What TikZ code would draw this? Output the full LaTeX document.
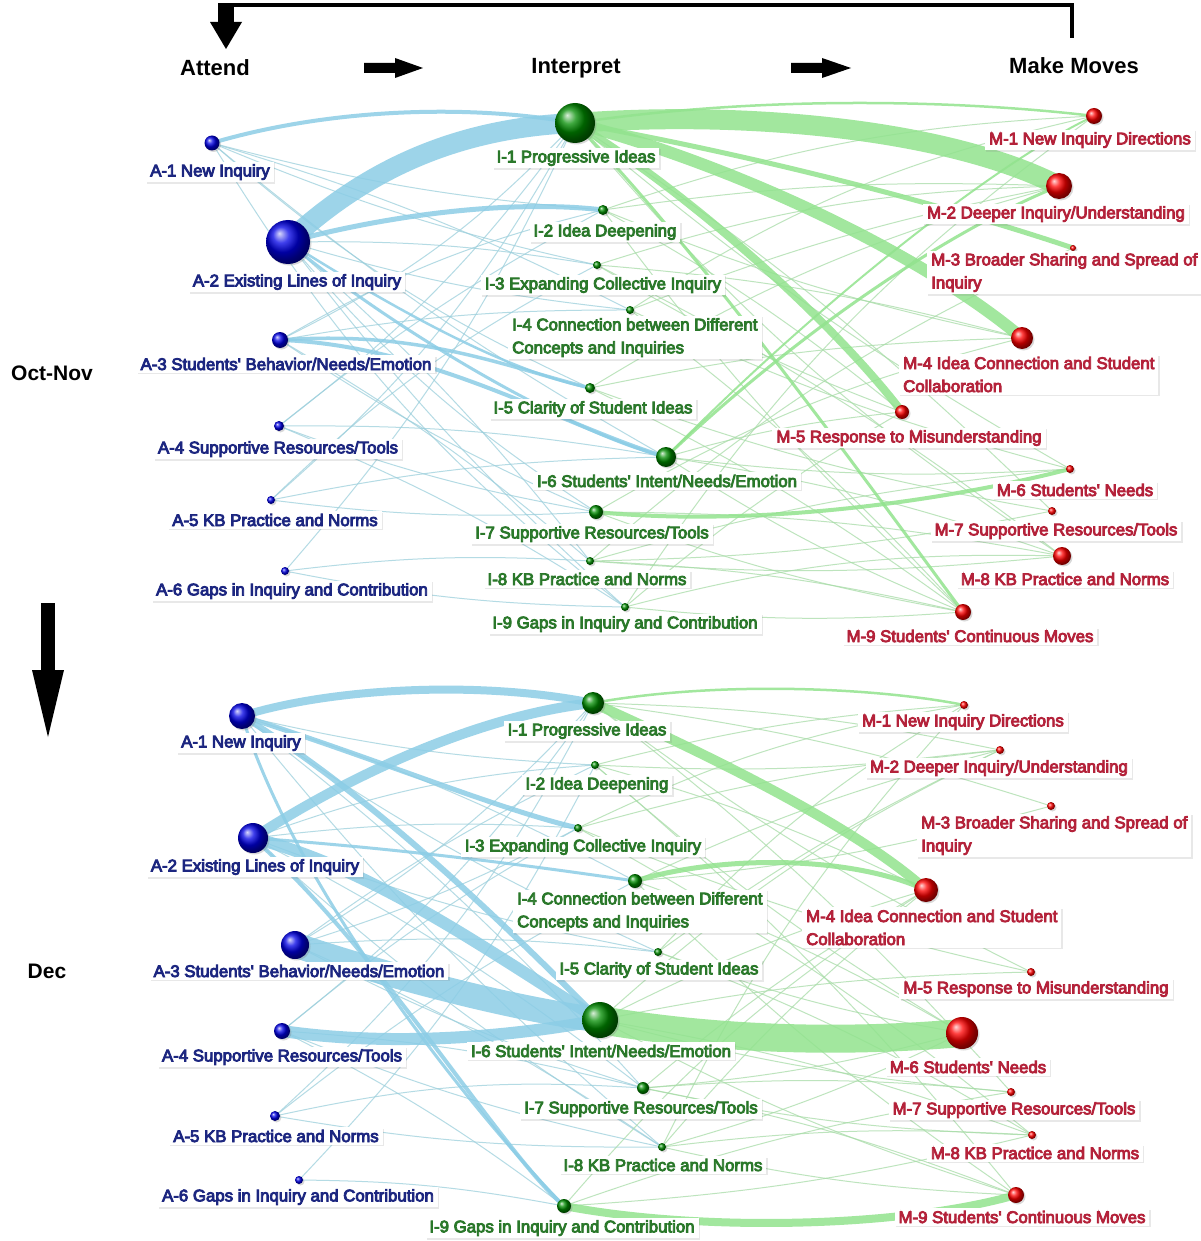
\documentclass[tikz,border=0pt]{standalone}
\usepackage{fontspec}
\setmainfont{Liberation Sans}
\newfontfamily\labfont[FakeBold=5]{Liberation Sans}
\usetikzlibrary{shadows}
\pgfdeclarelayer{bgfill}
\pgfdeclarelayer{edges}
\pgfsetlayers{bgfill,edges,main}
\definecolor{blueE}{HTML}{8CCDE6}
\definecolor{blueT}{HTML}{9CCFDC}
\definecolor{greenE}{HTML}{92E38E}
\definecolor{greenT}{HTML}{A8DCA8}
\definecolor{labAc}{HTML}{1C2680}
\definecolor{labIc}{HTML}{2A782A}
\definecolor{labMc}{HTML}{B4223A}
\begin{document}
\begin{tikzpicture}[x=1pt,y=1pt,
  ball/.style={circle, inner sep=0pt, draw=none, drop shadow={shadow xshift=1.5pt, shadow yshift=-1.5pt, opacity=0.3}},
  ballA/.style={ball, ball color=blue!90!black},
  ballI/.style={ball, ball color=green!55!black},
  ballM/.style={ball, ball color=red},
  lab/.style={fill=white, inner xsep=4pt, inner ysep=2.5pt, font=\labfont\fontsize{16.8}{23}\selectfont,
    drop shadow={shadow xshift=1.2pt, shadow yshift=-1.5pt, opacity=0.18}},
  labA/.style={lab, text=labAc},
  labI/.style={lab, text=labIc},
  labM/.style={lab, text=labMc},
  two/.style={anchor=west, align=left},
  bband/.style={draw=blueE, line width=#1, opacity=0.85},
  gband/.style={draw=greenE, line width=#1, opacity=0.85},
  bthin/.style={draw=blueT, line width=1pt, opacity=0.75},
  gthin/.style={draw=greenT, line width=1pt, opacity=0.75},
  hdr/.style={font=\bfseries\fontsize{22}{26}\selectfont},
  side/.style={font=\bfseries\fontsize{21}{25}\selectfont}
]
\useasboundingbox (0,0) rectangle (1200,-1241);
\begin{pgfonlayer}{bgfill}
\fill[white] (0,0) rectangle (1200,-1241);
\end{pgfonlayer}

% ---------- headers and arrows ----------
\node[hdr] (hA) at (215,-68) {Attend};
\node[hdr] (hI) at (576,-68) {Interpret};
\node[hdr] (hM) at (1074,-66) {Make Moves};
\node[side] (sOct) at (52,-373) {Oct-Nov};
\node[side] (sDec) at (47,-971) {Dec};

\draw[line width=4.5pt] (1072,-38) -- (1072,-5) -- (220,-5);
\fill (218,-3) rectangle (234,-24);
\fill (210,-22) -- (242,-22) -- (226,-49) -- cycle;

\fill (364,-63) -- (395,-63) -- (395,-58) -- (423,-68) -- (395,-78) -- (395,-73) -- (364,-73) -- cycle;
\fill (791,-63) -- (822,-63) -- (822,-58) -- (851,-68) -- (822,-78) -- (822,-73) -- (791,-73) -- cycle;

\fill (41,-603) rectangle (55,-671);
\fill (32,-670) -- (64,-670) -- (48,-737) -- cycle;

% ---------- top panel balls ----------
\node[ballA, minimum size=15pt] (tA1) at (212,-143) {};
\node[ballA, minimum size=44pt] (tA2) at (288,-242) {};
\node[ballA, minimum size=16pt] (tA3) at (280,-340) {};
\node[ballA, minimum size=10pt] (tA4) at (279,-426) {};
\node[ballA, minimum size=8pt] (tA5) at (271,-500) {};
\node[ballA, minimum size=8pt] (tA6) at (285,-571) {};

\node[ballI, minimum size=40pt] (tI1) at (575,-123) {};
\node[ballI, minimum size=10pt] (tI2) at (603,-210) {};
\node[ballI, minimum size=8pt] (tI3) at (597,-265) {};
\node[ballI, minimum size=8pt] (tI4) at (630,-310) {};
\node[ballI, minimum size=10pt] (tI5) at (590,-388) {};
\node[ballI, minimum size=20pt] (tI6) at (666,-457) {};
\node[ballI, minimum size=14pt] (tI7) at (596,-512) {};
\node[ballI, minimum size=8pt] (tI8) at (590,-561) {};
\node[ballI, minimum size=8pt] (tI9) at (625,-607) {};

\node[ballM, minimum size=16pt] (tM1) at (1094,-116) {};
\node[ballM, minimum size=26pt] (tM2) at (1059,-186) {};
\node[ballM, minimum size=6pt] (tM3) at (1073,-248) {};
\node[ballM, minimum size=22pt] (tM4) at (1022,-338) {};
\node[ballM, minimum size=14pt] (tM5) at (902,-412) {};
\node[ballM, minimum size=8pt] (tM6) at (1070,-469) {};
\node[ballM, minimum size=8pt] (tM7) at (1052,-511) {};
\node[ballM, minimum size=18pt] (tM8) at (1062,-556) {};
\node[ballM, minimum size=16pt] (tM9) at (963,-612) {};

% ---------- bottom panel balls ----------
\node[ballA, minimum size=26pt] (dA1) at (242,-716) {};
\node[ballA, minimum size=30pt] (dA2) at (253,-838) {};
\node[ballA, minimum size=28pt] (dA3) at (295,-945) {};
\node[ballA, minimum size=16pt] (dA4) at (282,-1031) {};
\node[ballA, minimum size=10pt] (dA5) at (275,-1116) {};
\node[ballA, minimum size=8pt] (dA6) at (299,-1180) {};

\node[ballI, minimum size=22pt] (dI1) at (593,-703) {};
\node[ballI, minimum size=8pt] (dI2) at (595,-765) {};
\node[ballI, minimum size=8pt] (dI3) at (578,-828) {};
\node[ballI, minimum size=14pt] (dI4) at (635,-881) {};
\node[ballI, minimum size=8pt] (dI5) at (658,-952) {};
\node[ballI, minimum size=36pt] (dI6) at (600,-1020) {};
\node[ballI, minimum size=12pt] (dI7) at (643,-1088) {};
\node[ballI, minimum size=8pt] (dI8) at (662,-1147) {};
\node[ballI, minimum size=14pt] (dI9) at (564,-1206) {};

\node[ballM, minimum size=8pt] (dM1) at (964,-705) {};
\node[ballM, minimum size=8pt] (dM2) at (1000,-750) {};
\node[ballM, minimum size=8pt] (dM3) at (1051,-806) {};
\node[ballM, minimum size=24pt] (dM4) at (926,-890) {};
\node[ballM, minimum size=8pt] (dM5) at (1031,-972) {};
\node[ballM, minimum size=32pt] (dM6) at (962,-1033) {};
\node[ballM, minimum size=8pt] (dM7) at (1011,-1092) {};
\node[ballM, minimum size=8pt] (dM8) at (1032,-1135) {};
\node[ballM, minimum size=16pt] (dM9) at (1016,-1195) {};

% ---------- edges ----------
\begin{pgfonlayer}{edges}
% top thin blue
\foreach \a/\b/\c in {tA1/tI2/-5, tA1/tI3/-5, tA1/tI5/-8, tA1/tI6/-5, tA1/tI4/5, tA2/tI3/5, tA2/tI4/-5, tA2/tI7/-8, tA2/tI8/5, tA2/tI9/-5, tA3/tI1/-10, tA3/tI2/8, tA3/tI4/5, tA3/tI7/-5, tA3/tI8/5, tA4/tI1/-8, tA4/tI2/5, tA4/tI6/5, tA4/tI7/-5, tA4/tI9/5, tA5/tI1/-10, tA5/tI3/8, tA5/tI6/5, tA5/tI7/-5, tA6/tI1/-8, tA6/tI8/5, tA6/tI9/-5, tA1/tI9/-10}
  \draw[bthin] (\a.center) to[bend left=\c] (\b.center);
% top thin green
\foreach \a/\b/\c in {tI1/tM6/-5, tI1/tM7/5, tI1/tM8/-8, tI2/tM1/8, tI2/tM2/5, tI2/tM4/-5, tI2/tM5/5, tI2/tM9/-5, tI3/tM2/8, tI3/tM4/5, tI3/tM5/-5, tI3/tM8/5, tI4/tM1/10, tI4/tM2/5, tI4/tM6/-5, tI4/tM9/5, tI5/tM2/8, tI5/tM4/5, tI5/tM7/-5, tI6/tM5/5, tI6/tM6/-5, tI6/tM8/5, tI6/tM9/-5, tI7/tM8/5, tI7/tM9/-5, tI7/tM4/8, tI8/tM3/8, tI8/tM6/5, tI8/tM7/-5, tI8/tM9/5, tI8/tM8/-5, tI9/tM5/5, tI9/tM8/8, tI9/tM9/-5, tI5/tM9/5, tI9/tM1/10}
  \draw[gthin] (\a.center) to[bend left=\c] (\b.center);
% bottom thin blue
\foreach \a/\b/\c in {dA1/dI2/-5, dA1/dI4/5, dA1/dI5/-5, dA1/dI7/5, dA1/dI8/-5, dA2/dI2/8, dA2/dI3/5, dA2/dI5/-5, dA2/dI7/5, dA2/dI8/-5, dA3/dI1/-8, dA3/dI2/5, dA3/dI3/-5, dA3/dI5/5, dA3/dI7/-5, dA3/dI8/5, dA4/dI1/-8, dA4/dI3/5, dA4/dI7/5, dA4/dI8/-5, dA4/dI9/5, dA5/dI1/-10, dA5/dI4/5, dA5/dI7/8, dA5/dI8/-5, dA6/dI2/-8, dA6/dI9/5}
  \draw[bthin] (\a.center) to[bend left=\c] (\b.center);
% bottom thin green
\foreach \a/\b/\c in {dI1/dM2/5, dI1/dM3/5, dI1/dM5/-5, dI1/dM7/5, dI2/dM1/5, dI2/dM2/-5, dI2/dM4/5, dI2/dM6/-5, dI2/dM9/5, dI3/dM1/8, dI3/dM2/5, dI3/dM5/-5, dI3/dM8/5, dI4/dM2/5, dI4/dM3/-5, dI4/dM6/5, dI4/dM9/-5, dI5/dM1/8, dI5/dM2/5, dI5/dM6/-5, dI5/dM8/5, dI6/dM2/8, dI6/dM4/5, dI6/dM5/5, dI6/dM7/-5, dI6/dM8/5, dI6/dM9/-5, dI7/dM4/5, dI7/dM6/-5, dI7/dM7/5, dI7/dM8/-5, dI7/dM9/5, dI8/dM1/8, dI8/dM4/5, dI8/dM6/-5, dI8/dM8/5, dI8/dM9/-5, dI9/dM4/8, dI9/dM7/5, dI9/dM8/-5}
  \draw[gthin] (\a.center) to[bend left=\c] (\b.center);

% top thick blue
\draw[bband=20] (tA2.center) .. controls (360,-175) and (450,-128) .. (tI1.center);
\draw[bband=4] (tA1.center) .. controls (330,-108) and (470,-104) .. (tI1.center);
\draw[bband=5] (tA2.center) .. controls (400,-212) and (520,-200) .. (tI2.center);
\draw[bband=3.5] (tA3.center) .. controls (420,-330) and (500,-365) .. (tI5.center);
\draw[bband=4] (tA3.center) .. controls (430,-345) and (560,-425) .. (tI6.center);
\draw[bband=3] (tA2.center) .. controls (380,-320) and (560,-430) .. (tI6.center);
\draw[bband=2.5] (tA2.center) .. controls (380,-300) and (500,-370) .. (tI5.center);
% top thick green
\draw[gband=20] (tI1.center) .. controls (750,-110) and (950,-130) .. (tM2.center);
\draw[gband=2.5] (tI1.center) .. controls (760,-95) and (960,-100) .. (tM1.center);
\draw[gband=12] (tI1.center) .. controls (750,-170) and (930,-260) .. (tM4.center);
\draw[gband=8] (tI1.center) .. controls (700,-200) and (840,-330) .. (tM5.center);
\draw[gband=5] (tI1.center) .. controls (780,-160) and (960,-210) .. (tM3.center);
\draw[gband=3] (tI1.center) .. controls (700,-250) and (880,-500) .. (tM9.center);
\draw[gband=3] (tI6.center) .. controls (800,-330) and (950,-230) .. (tM2.center);
\draw[gband=2] (tI6.center) .. controls (820,-300) and (1000,-160) .. (tM1.center);
\draw[gband=4] (tI7.center) .. controls (760,-528) and (950,-500) .. (tM6.center);

% bottom thick blue
\draw[bband=8] (dA1.center) .. controls (330,-688) and (480,-680) .. (dI1.center);
\draw[bband=10] (dA2.center) .. controls (350,-775) and (480,-715) .. (dI1.center);
\draw[bband=5] (dA1.center) .. controls (380,-760) and (500,-810) .. (dI3.center);
\draw[bband=6] (dA1.center) .. controls (380,-800) and (520,-940) .. (dI6.center);
\draw[bband=12] (dA2.center) .. controls (380,-870) and (500,-960) .. (dI6.center);
\draw[bband=25] (dA3.center) .. controls (400,-980) and (520,-1010) .. (dI6.center);
\draw[bband=12] (dA4.center) .. controls (400,-1048) and (520,-1035) .. (dI6.center);
\draw[bband=4] (dA2.center) .. controls (380,-950) and (500,-1150) .. (dI9.center);
\draw[bband=3] (dA1.center) .. controls (300,-900) and (480,-1120) .. (dI9.center);
\draw[bband=3] (dA2.center) .. controls (420,-850) and (560,-870) .. (dI4.center);
% bottom thick green
\draw[gband=28] (dI6.center) .. controls (750,-1045) and (880,-1040) .. (dM6.center);
\draw[gband=10] (dI1.center) .. controls (720,-760) and (860,-830) .. (dM4.center);
\draw[gband=5] (dI4.center) .. controls (720,-855) and (850,-855) .. (dM4.center);
\draw[gband=8] (dI9.center) .. controls (700,-1232) and (900,-1228) .. (dM9.center);
\draw[gband=2.5] (dI1.center) .. controls (720,-680) and (880,-688) .. (dM1.center);
\end{pgfonlayer}

% ---------- top panel labels ----------
\node[labA] (tA1l) at (210,-172) {A-1 New Inquiry};
\node[labA] (tA2l) at (297,-282) {A-2 Existing Lines of Inquiry};
\node[labA] (tA3l) at (286,-364) {A-3 Students' Behavior/Needs/Emotion};
\node[labA] (tA4l) at (278,-449) {A-4 Supportive Resources/Tools};
\node[labA] (tA5l) at (275,-520) {A-5 KB Practice and Norms};
\node[labA] (tA6l) at (292,-591) {A-6 Gaps in Inquiry and Contribution};

\node[labI] (tI1l) at (576,-158) {I-1 Progressive Ideas};
\node[labI] (tI2l) at (605,-232) {I-2 Idea Deepening};
\node[labI] (tI3l) at (603,-285) {I-3 Expanding Collective Inquiry};
\node[labI, two] (tI4l) at (508,-337.5) {I-4 Connection between Different\\Concepts and Inquiries};
\node[labI] (tI5l) at (593,-409) {I-5 Clarity of Student Ideas};
\node[labI] (tI6l) at (667,-481) {I-6 Students' Intent/Needs/Emotion};
\node[labI] (tI7l) at (592,-534) {I-7 Supportive Resources/Tools};
\node[labI] (tI8l) at (587,-579) {I-8 KB Practice and Norms};
\node[labI] (tI9l) at (625,-624) {I-9 Gaps in Inquiry and Contribution};

\node[labM] (tM1l) at (1090,-140) {M-1 New Inquiry Directions};
\node[labM] (tM2l) at (1056,-214) {M-2 Deeper Inquiry/Understanding};
\node[labM, two] (tM3l) at (927,-272.5) {M-3 Broader Sharing and Spread of\\Inquiry};
\node[labM, two] (tM4l) at (899,-374.5) {M-4 Idea Connection and Student\\Collaboration};
\node[labM] (tM5l) at (909,-438) {M-5 Response to Misunderstanding};
\node[labM] (tM6l) at (1075,-490) {M-6 Students' Needs};
\node[labM] (tM7l) at (1056,-531) {M-7 Supportive Resources/Tools};
\node[labM] (tM8l) at (1065,-579) {M-8 KB Practice and Norms};
\node[labM] (tM9l) at (970,-636) {M-9 Students' Continuous Moves};

% ---------- bottom panel labels ----------
\node[labA] (dA1l) at (241,-743) {A-1 New Inquiry};
\node[labA] (dA2l) at (255,-867) {A-2 Existing Lines of Inquiry};
\node[labA] (dA3l) at (299,-971) {A-3 Students' Behavior/Needs/Emotion};
\node[labA] (dA4l) at (282,-1057) {A-4 Supportive Resources/Tools};
\node[labA] (dA5l) at (276,-1136) {A-5 KB Practice and Norms};
\node[labA] (dA6l) at (298,-1197) {A-6 Gaps in Inquiry and Contribution};

\node[labI] (dI1l) at (587,-731) {I-1 Progressive Ideas};
\node[labI] (dI2l) at (597,-785) {I-2 Idea Deepening};
\node[labI] (dI3l) at (583,-847) {I-3 Expanding Collective Inquiry};
\node[labI, two] (dI4l) at (513,-911.5) {I-4 Connection between Different\\Concepts and Inquiries};
\node[labI] (dI5l) at (659,-970) {I-5 Clarity of Student Ideas};
\node[labI] (dI6l) at (601,-1051) {I-6 Students' Intent/Needs/Emotion};
\node[labI] (dI7l) at (641,-1109) {I-7 Supportive Resources/Tools};
\node[labI] (dI8l) at (663,-1165) {I-8 KB Practice and Norms};
\node[labI] (dI9l) at (562,-1228) {I-9 Gaps in Inquiry and Contribution};

\node[labM] (dM1l) at (963,-722) {M-1 New Inquiry Directions};
\node[labM] (dM2l) at (999,-768) {M-2 Deeper Inquiry/Understanding};
\node[labM, two] (dM3l) at (917,-835.5) {M-3 Broader Sharing and Spread of\\Inquiry};
\node[labM, two] (dM4l) at (802,-927.5) {M-4 Idea Connection and Student\\Collaboration};
\node[labM] (dM5l) at (1036,-989) {M-5 Response to Misunderstanding};
\node[labM] (dM6l) at (968,-1067) {M-6 Students' Needs};
\node[labM] (dM7l) at (1014,-1110) {M-7 Supportive Resources/Tools};
\node[labM] (dM8l) at (1035,-1153) {M-8 KB Practice and Norms};
\node[labM] (dM9l) at (1022,-1217) {M-9 Students' Continuous Moves};
\end{tikzpicture}
\end{document}
